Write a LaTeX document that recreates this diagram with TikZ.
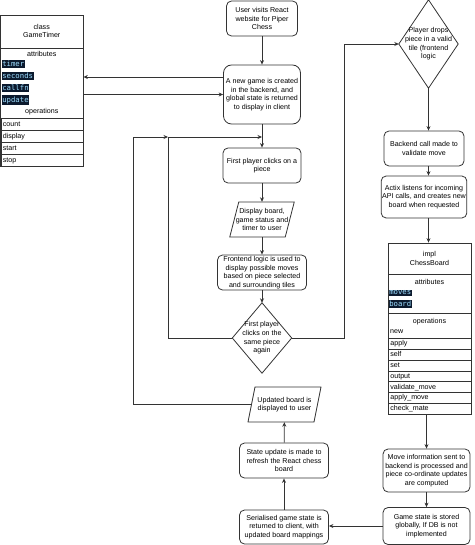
\documentclass[tikz,border=0pt]{standalone}
\usepackage{fontspec}
\setmainfont{Liberation Sans}
\setmonofont{DejaVu Sans Mono}
\usetikzlibrary{arrows.meta}
\definecolor{linegray}{RGB}{51,51,51}
\definecolor{codebg}{RGB}{12,26,46}
\definecolor{codefg}{RGB}{156,220,254}
\newcommand*{\flowfont}{\fontsize{7.1}{8.6}\selectfont}
\newcommand*{\codefont}{\ttfamily\fontsize{7.3}{8.6}\selectfont}
\newcommand{\slantframe}[4]{%
   % node, body width, height, slant of the top edge
   \pgfmathsetmacro{\sfw}{#2/2}
   \pgfmathsetmacro{\sfh}{#3/2}
   \pgfmathsetmacro{\sfs}{#4/2}
   \draw[flowline, shift={(#1.center)}]
         (-\sfw+\sfs,-\sfh) -- (\sfw+\sfs,-\sfh)
      -- (\sfw-\sfs,\sfh)   -- (-\sfw-\sfs,\sfh) -- cycle;
}
\newcommand{\choiceframe}[1]{%
   \draw[flowline] (#1.north) -- (#1.east) -- (#1.south) -- (#1.west) -- cycle;
}
\tikzset{
   flowline/.style  = {draw=linegray, line width=0.8pt},
   flowarrow/.style = {flowline, -{Stealth[length=4.5pt, width=4pt]}},
   stepbox/.style   = {flowline, rounded corners=5pt, align=center,
                       font=\flowfont, inner sep=1pt},
   textonly/.style  = {align=center, font=\flowfont, inner sep=0pt},
   classbox/.style  = {flowline, inner sep=0pt},
   classrow/.style  = {flowline, anchor=north west, align=left, font=\flowfont,
                       inner xsep=2pt, inner ysep=0pt,
                       text height=5.1pt, text depth=1.6pt},
   codeitem/.style  = {fill=codebg, text=codefg, font=\codefont, anchor=west,
                       inner xsep=0.6pt, inner ysep=1pt}
}
\begin{document}
\begin{tikzpicture}[x=1pt, y=-1pt]
   \useasboundingbox (0,0) rectangle (474,545);

   % main flow
   \node[stepbox, minimum width=71pt, minimum height=35pt] (user) at (262,18.5)
      {User visits React\\website for Piper\\Chess};
   \node[stepbox, minimum width=77pt, minimum height=59pt, rounded corners=8pt]
      (newgame) at (262,94.5)
      {A new game is created\\in the backend, and\\global state is returned\\to display in client};
   \node[stepbox, minimum width=78pt, minimum height=35pt] (first) at (262,165.5)
      {First player clicks on a\\piece};
   \node[textonly, minimum width=55.5pt, minimum height=35pt] (display) at (262,219.5)
      {Display board,\\game status and\\timer to user};
   \slantframe{display}{55.5}{35}{9}
   \node[stepbox, minimum width=89pt, minimum height=35pt] (frontend) at (262,272.5)
      {Frontend logic is used to\\display possible moves\\based on piece selected\\and surrounding tiles};
   \node[textonly, minimum width=59pt, minimum height=70pt] (same) at (262,338)
      {First player\\clicks on the\\same piece\\again};
   \choiceframe{same}
   \node[textonly, minimum width=66pt, minimum height=35pt] (updated) at (284.5,404.5)
      {Updated board is\\displayed to user};
   \slantframe{updated}{66}{35}{7}
   \node[stepbox, minimum width=89pt, minimum height=35pt] (stateupd) at (284,460.5)
      {State update is made to\\refresh the React chess\\board};
   \node[stepbox, minimum width=89pt, minimum height=34pt] (serial) at (284,527)
      {Serialised game state is\\returned to client, with\\updated board mappings};

   % backend side
   \node[textonly, minimum width=59pt, minimum height=88pt] (drop) at (428.5,44)
      {Player drops\\piece in a valid\\tile (frontend\\logic};
   \choiceframe{drop}
   \node[stepbox, minimum width=80pt, minimum height=35pt] (backend) at (424,148.5)
      {Backend call made to\\validate move};
   \node[stepbox, minimum width=80pt, minimum height=42pt] (actix) at (424,197)
      {Actix listens for incoming\\API calls, and creates new\\board when requested};
   \node[stepbox, minimum width=87pt, minimum height=43pt] (moveinfo) at (426.5,470.5)
      {Move information sent to\\backend is processed and\\piece co-ordinate updates\\are computed};
   \node[stepbox, minimum width=87pt, minimum height=37pt] (gamestate) at (426.5,526)
      {Game state is stored\\globally, If DB is not\\implemented};

   % class GameTimer
   \node[classbox, minimum width=82.5pt, minimum height=151pt] (timer) at (41.75,90.5) {};
   \node[textonly] (timerhead) at (41.75,31) {class\\GameTimer};
   \draw[flowline] (0.5,48) -- (83,48);
   \node[textonly] (timerattr) at (41.75,53.5) {attributes};
   \node[codeitem] (timerfield) at (1.5,64) {timer};
   \node[codeitem] (secondsfield) at (1.5,76) {seconds};
   \node[codeitem] (callfnfield) at (1.5,88) {callfn};
   \node[codeitem] (updatefield) at (1.5,100) {update};
   \node[textonly] (timerops) at (41.75,112) {operations};
   \node[classrow, text width=78.5pt, minimum height=12pt] (opcount) at (0.5,118) {count};
   \node[classrow, text width=78.5pt, minimum height=12pt] (opdisplay) at (0.5,130) {display};
   \node[classrow, text width=78.5pt, minimum height=12pt] (opstart) at (0.5,142) {start};
   \node[classrow, text width=78.5pt, minimum height=12pt] (opstop) at (0.5,154) {stop};

   % impl ChessBoard
   \node[classbox, minimum width=83pt, minimum height=171pt] (chess) at (429.5,328.5) {};
   \node[textonly] (chesshead) at (429.5,258.5) {impl\\ChessBoard};
   \draw[flowline] (388,274) -- (471,274);
   \node[textonly] (chessattr) at (429.5,281.5) {attributes};
   \node[codeitem] (movesfield) at (388.5,293) {moves};
   \node[codeitem] (boardfield) at (388.5,304) {board};
   \draw[flowline] (388,313) -- (471,313);
   \node[textonly] (chessops) at (429.5,321.5) {operations};
   \node[textonly, anchor=west] (opnew) at (390,332) {new};
   \node[classrow, text width=79pt, minimum height=10.86pt] (opapply) at (388,338) {apply};
   \node[classrow, text width=79pt, minimum height=10.86pt] (opself) at (388,348.86) {self};
   \node[classrow, text width=79pt, minimum height=10.86pt] (opset) at (388,359.71) {set};
   \node[classrow, text width=79pt, minimum height=10.86pt] (opoutput) at (388,370.57) {output};
   \node[classrow, text width=79pt, minimum height=10.86pt] (opvalidate) at (388,381.43) {validate\_move};
   \node[classrow, text width=79pt, minimum height=10.86pt] (opapplymove) at (388,392.29) {apply\_move};
   \node[classrow, text width=79pt, minimum height=10.86pt] (opcheckmate) at (388,403.14) {check\_mate};

   % connectors
   \coordinate (joinA) at (262,137);
   \coordinate (joinB) at (168,137);
   \coordinate (outer) at (133,137);
   \draw[flowarrow] (user) -- (newgame);
   \draw[flowarrow] (newgame) -- (first);
   \draw[flowarrow] (first) -- (display);
   \draw[flowarrow] (display) -- (frontend);
   \draw[flowarrow] (frontend) -- (same);
   \draw[flowarrow] (same.west) -| (joinB) -- (joinA);
   \draw[flowarrow] (updated.west) -| (outer) -- (joinB);
   \draw[flowarrow] (same.east) -| ([xshift=-54pt]drop.west) -- (drop.west);
   \draw[flowarrow] ([yshift=17.5pt]newgame.west) -- ([yshift=17.5pt]newgame.west -| timer.east);
   \draw[flowarrow] (timer.east |- newgame.west) -- (newgame.west);
   \draw[flowarrow] (drop.south) -- (drop.south |- backend.north);
   \draw[flowarrow] (drop.south |- backend.south) -- (drop.south |- actix.north);
   \draw[flowarrow] (drop.south |- actix.south) -- (drop.south |- chess.north);
   \draw[flowarrow] (moveinfo.north |- chess.south) -- (moveinfo.north);
   \draw[flowarrow] (moveinfo) -- (gamestate);
   \draw[flowarrow] (gamestate.west) -- (gamestate.west -| serial.east);
   \draw[flowarrow] (serial) -- (stateupd);
   \draw[flowarrow] (stateupd) -- (updated);
\end{tikzpicture}
\end{document}
